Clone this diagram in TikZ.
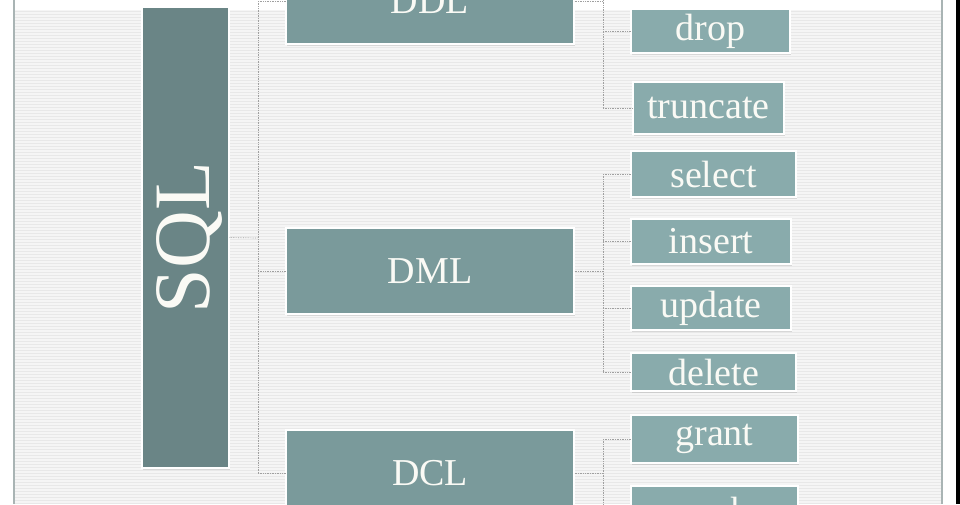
\documentclass[tikz,border=0pt]{standalone}
\usepackage{fontspec}
\setmainfont{Liberation Serif}
\usepackage{tikz}
\usetikzlibrary{shadows}
\definecolor{bgfill}{HTML}{F5F5F5}
\definecolor{stripe}{HTML}{E8E8E8}
\definecolor{framegray}{HTML}{A9B4B4}
\definecolor{rootfill}{HTML}{6A8586}
\definecolor{groupfill}{HTML}{7A9A9B}
\definecolor{leaffill}{HTML}{89ABAC}
\definecolor{txt}{HTML}{FAFAF5}
\definecolor{linkgray}{HTML}{A0A0A0}
\tikzset{
  stripe/.style={draw=stripe, line width=1pt},
  frame/.style={draw=framegray, line width=1.6pt},
  card/.style={draw=white, line width=1.2pt, text=txt, inner sep=0pt,
    drop shadow={shadow xshift=1pt, shadow yshift=-1.5pt, opacity=0.25}},
  root/.style={card, fill=rootfill, minimum width=87pt, minimum height=461pt,
    font=\fontsize{80}{80}\selectfont},
  group/.style={card, fill=groupfill, minimum width=288pt, minimum height=86pt,
    font=\fontsize{38}{38}\selectfont},
  leaf/.style={card, fill=leaffill, font=\fontsize{38}{38}\selectfont},
  link/.style={draw=linkgray, densely dotted, line width=0.7pt}
}

\begin{document}
\begin{tikzpicture}[x=1pt, y=-1pt]
  \useasboundingbox (0,0) rectangle (960,504);
  \clip (0,0) rectangle (960,504);

  % background panel
  \fill[bgfill] (14,10) rectangle (942,504);
  \foreach \y in {11,14,...,504}
    \draw[stripe] (14,\y) -- (942,\y);
  \draw[frame] (14,0) -- (14,504);
  \draw[frame] (942,0) -- (942,504);
  \fill[black] (956,0) rectangle (960,504);

  % boxes
  \node[root] (SQL) at (185.5,237.5) {\hspace*{8pt}\rotatebox{90}{SQL}};

  \node[group] (DDL) at (430,1) {DDL};
  \node[group] (DML) at (430,271) {DML};
  \node[group] (DCL) at (430,473) {DCL};

  \node[leaf, minimum width=159pt, minimum height=44pt] (drop) at (710.5,31) {drop};
  \node[leaf, minimum width=151pt, minimum height=52pt] (truncate) at (708.5,108) {truncate};
  \node[leaf, minimum width=165pt, minimum height=46pt] (select) at (713.5,174) {select};
  \node[leaf, minimum width=160pt, minimum height=45pt] (insert) at (711,241.5) {insert};
  \node[leaf, minimum width=160pt, minimum height=44pt] (update) at (711,308) {update};
  \node[leaf, minimum width=165pt, minimum height=38pt] (delete) at (713.5,372) {delete};
  \node[leaf, minimum width=167pt, minimum height=48pt] (grant) at (714.5,439) {grant};
  \node[leaf, minimum width=167pt, minimum height=48pt] (revoke) at (714.5,510) {revoke};

  % connectors
  \coordinate (sqlbus) at (258,238);
  \coordinate (leafbus) at (603,0);
  \coordinate (leafend) at (603,504);

  \draw[link] (SQL.east) -- (sqlbus);
  \draw[link] (sqlbus |- DDL.west) -- (sqlbus |- DCL.west);
  \foreach \n in {DDL,DML,DCL}
    \draw[link] (sqlbus |- \n.west) -- (\n.west);

  \draw[link] (DDL.east) -- (leafbus |- DDL.east);
  \draw[link] (leafbus) -- (leafbus |- truncate.west);
  \foreach \n in {drop,truncate}
    \draw[link] (leafbus |- \n.west) -- (\n.west);

  \draw[link] (DML.east) -- (leafbus |- DML.east);
  \draw[link] (leafbus |- select.west) -- (leafbus |- delete.west);
  \foreach \n in {select,insert,update,delete}
    \draw[link] (leafbus |- \n.west) -- (\n.west);

  \draw[link] (DCL.east) -- (leafbus |- DCL.east);
  \draw[link] (leafbus |- grant.west) -- (leafend);
  \foreach \n in {grant,revoke}
    \draw[link] (leafbus |- \n.west) -- (\n.west);
\end{tikzpicture}
\end{document}
